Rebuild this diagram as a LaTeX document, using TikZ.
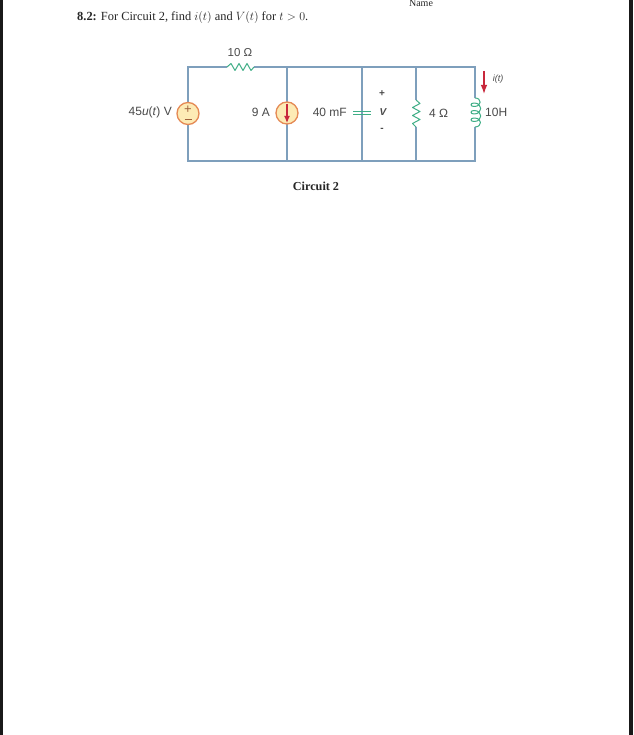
\documentclass[tikz,border=0pt]{standalone}
\usepackage{fontspec}
\setmainfont{Liberation Serif}
\setsansfont{Liberation Sans}
\usetikzlibrary{arrows.meta,decorations.pathmorphing}
\definecolor{wire}{HTML}{7E9FBC}
\definecolor{comp}{HTML}{3FAE86}
\definecolor{srcfill}{HTML}{FDEBB5}
\definecolor{srcline}{HTML}{E58A55}
\definecolor{arrowred}{HTML}{C8283C}
\definecolor{lbl}{HTML}{4A4A4A}
\tikzset{
  wireline/.style={draw=wire,line width=1.3pt},
  compline/.style={draw=comp,line width=1pt,line join=round},
  src/.style={circle,draw=srcline,fill=srcfill,line width=1.3pt,minimum size=22pt,inner sep=0pt},
  cirlabel/.style={font=\sffamily\fontsize{12}{14}\selectfont,text=lbl,inner sep=0pt},
  doc/.style={font=\fontsize{12.4}{14}\selectfont,text=black!85,inner sep=0pt}
}
\begin{document}
\begin{tikzpicture}[x=1pt,y=-1pt]
\useasboundingbox (0,0) rectangle (633,735);
\fill[white] (0,0) rectangle (633,735);
\fill[black!90] (0,0) rectangle (3,735);
\fill[black!90] (629,0) rectangle (633,735);
% corners and junctions
\coordinate (tl) at (188,67);
\coordinate (bl) at (188,161);
\coordinate (t1) at (287,67);
\coordinate (b1) at (287,161);
\coordinate (t2) at (362,67);
\coordinate (b2) at (362,161);
\coordinate (t3) at (416,67);
\coordinate (b3) at (416,161);
\coordinate (tr) at (475,67);
\coordinate (br) at (475,161);
\coordinate (ra) at (227,67);
\coordinate (rb) at (254,67);
\coordinate (r4a) at (416,100);
\coordinate (r4b) at (416,127);
\coordinate (la) at (475,98);
\coordinate (lb) at (475,127);
\coordinate (ar1) at (484,71);
\coordinate (ar2) at (484,94);
\coordinate (capl1) at (353,111.5);
\coordinate (capr1) at (371,111.5);
\coordinate (capl2) at (353,115);
\coordinate (capr2) at (371,115);
% wires
\draw[wireline] (ra) -- (tl) -- (bl) -- (br) -- (lb);
\draw[wireline] (rb) -- (tr) -- (la);
\draw[wireline] (t1) -- (b1);
\draw[wireline] (t2) -- (b2);
\draw[wireline] (t3) -- (r4a);
\draw[wireline] (r4b) -- (b3);
% resistors
\draw[compline] (ra) -- (231,63.5) -- (235,70.5) -- (239,63.5) -- (243,70.5) -- (247,63.5) -- (251,70.5) -- (rb);
\draw[compline] (r4a) -- (420,103.5) -- (412.5,107.5) -- (420,111.5) -- (412.5,115.5) -- (420,119.5) -- (412.5,123.5) -- (r4b);
% inductor
\draw[compline] (la) .. controls (482,98) and (482,106.5) .. (474,106.5)
  .. controls (470,106.5) and (470,103) .. (474,103)
  .. controls (483,103) and (483,114) .. (474,114)
  .. controls (470,114) and (470,110.5) .. (474,110.5)
  .. controls (483,110.5) and (483,121.5) .. (474,121.5)
  .. controls (470,121.5) and (470,118) .. (474,118)
  .. controls (483,118) and (482,127) .. (lb);
% capacitor
\draw[compline] (capl1) -- (capr1);
\draw[compline] (capl2) -- (capr2);
% sources
\node[src] (vs) at (188,113.5) {};
\node[font=\sffamily\fontsize{13}{14}\selectfont,text=srcline!70!black,inner sep=0pt] (vp) at (188,110) {+};
\draw[srcline!70!black,line width=1pt] (184.5,119.5) -- (191.5,119.5);
\node[src] (cs) at (287,113) {};
\coordinate (csa) at (287,104);
\coordinate (csb) at (287,123);
\draw[-{Latex[length=7pt,width=6pt]},arrowred,line width=1.1pt] (csa) -- (csb);
% current arrow
\draw[-{Latex[length=9pt,width=6.5pt]},arrowred,line width=1.3pt] (ar1) -- (ar2);
% circuit labels
\node[cirlabel,font=\sffamily\fontsize{11.5}{14}\selectfont] (l10) at (240,52.5) {10 Ω};
\node[cirlabel,anchor=east] (lvs) at (172,112.5) {45\textit{u}(\textit{t}) V};
\node[cirlabel,anchor=east] (l9) at (270,112.5) {9 A};
\node[cirlabel,anchor=east] (lc) at (347,112.5) {40 mF};
\node[cirlabel,font=\sffamily\bfseries\fontsize{10}{10}\selectfont] (lp) at (382,94) {+};
\node[cirlabel,font=\sffamily\bfseries\itshape\fontsize{10}{10}\selectfont] (lv) at (383,112.5) {V};
\node[cirlabel,font=\sffamily\bfseries\fontsize{10}{10}\selectfont] (lm) at (382,130) {-};
\node[cirlabel,anchor=west] (l4) at (429,113) {4 Ω};
\node[cirlabel,anchor=west] (lh) at (485,112.5) {10H};
\node[cirlabel,font=\sffamily\itshape\fontsize{9}{9}\selectfont] (li) at (498,79) {\textit{i}(\textit{t})};
% document text
\node[doc,anchor=west] (q) at (77,18) {\textbf{8.2:} For Circuit 2, find $i(t)$ and $V(t)$ for $t>0$.};
\node[doc,font=\bfseries\fontsize{12.2}{14}\selectfont] (cap) at (316,186.5) {Circuit 2};
\node[doc,font=\fontsize{10}{10}\selectfont,anchor=base] (nm) at (421,7) {Name};
\end{tikzpicture}
\end{document}
